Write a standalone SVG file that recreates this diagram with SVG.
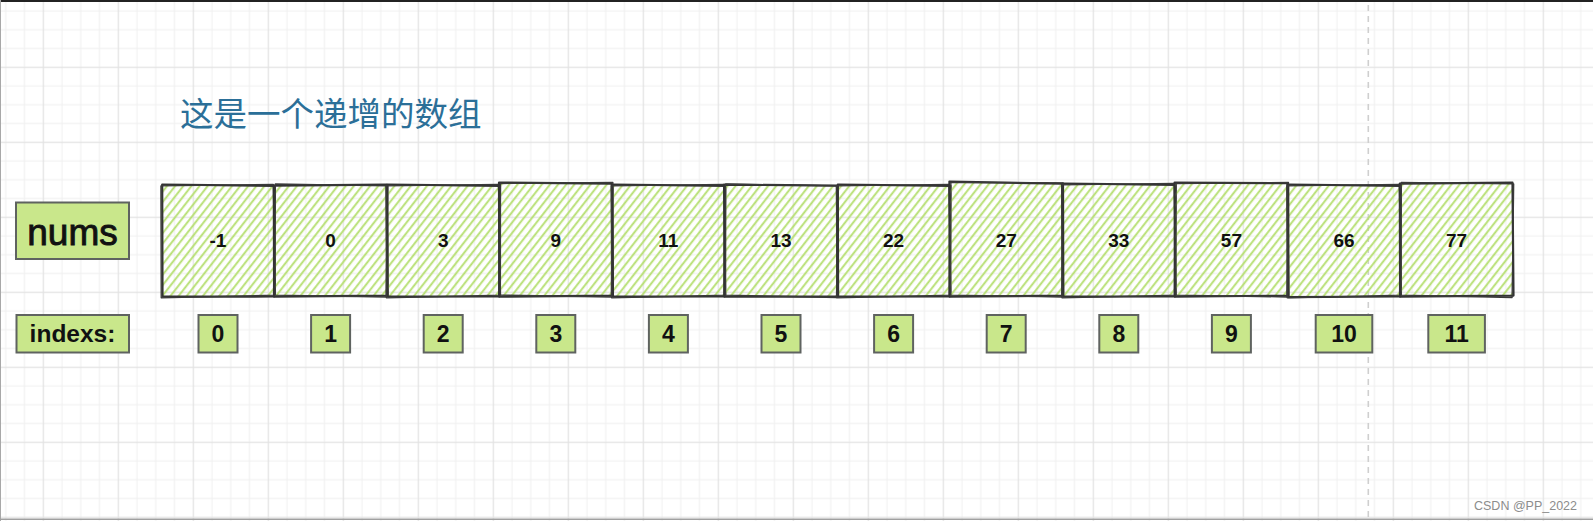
<svg xmlns="http://www.w3.org/2000/svg" width="1593" height="521" viewBox="0 0 1593 521">
<style>
.cellout{fill:none;stroke:#333333;stroke-width:2.2;stroke-linejoin:round;stroke-linecap:round}
.cellout2{fill:none;stroke:#3a3a3a;stroke-width:1.3;stroke-linejoin:round;stroke-linecap:round}
.hatch{fill:url(#hatch);stroke:none}
.val{font-family:"Liberation Sans",Arial,sans-serif;font-weight:bold;font-size:19px;fill:#111111;text-anchor:middle}
.ibox{fill:#c9e78b;stroke:#5f6360;stroke-width:2}
.itxt{font-family:"Liberation Sans",Arial,sans-serif;font-weight:bold;font-size:23px;fill:#111111;text-anchor:middle}
</style>
<defs>
<pattern id="grid" x="42.7" y="66.7" width="75" height="75" patternUnits="userSpaceOnUse">
<rect x="0" y="0" width="75" height="75" fill="#ffffff"/>
<rect x="18.75" y="0" width="1" height="75" fill="#f0f0f0"/>
<rect x="37.5" y="0" width="1" height="75" fill="#f0f0f0"/>
<rect x="56.25" y="0" width="1" height="75" fill="#f0f0f0"/>
<rect x="0" y="18.75" width="75" height="1" fill="#f0f0f0"/>
<rect x="0" y="37.5" width="75" height="1" fill="#f0f0f0"/>
<rect x="0" y="56.25" width="75" height="1" fill="#f0f0f0"/>
<rect x="0" y="0" width="1.2" height="75" fill="#e2e2e2"/>
<rect x="0" y="0" width="75" height="1.2" fill="#e2e2e2"/>
</pattern>
<pattern id="hatch" x="0" y="0" width="6.4" height="20" patternUnits="userSpaceOnUse" patternTransform="rotate(38)">
<line x1="3" y1="-2" x2="3" y2="22" stroke="#b6df72" stroke-width="1.9"/>
</pattern>
</defs>

<rect x="0" y="0" width="1593" height="521" fill="url(#grid)"/>
<rect x="0" y="0" width="1593" height="2" fill="#222222"/>
<rect x="0" y="0" width="1" height="521" fill="#a8a8a8"/>
<rect x="0" y="518.5" width="1593" height="1.5" fill="#a0a0a0"/>
<line x1="1368.3" y1="5" x2="1368.3" y2="521" stroke="#cfcfcf" stroke-width="1.6" stroke-dasharray="6 5"/>

<text id="title" x="180" y="126" font-family="'Noto Sans CJK SC','Noto Sans',sans-serif" font-size="33.5" fill="#2b6f98">这是一个递增的数组</text>

<g id="label-nums">
<rect x="16" y="202.5" width="113" height="56.5" fill="#c9e78b" stroke="#5f6360" stroke-width="2"/>
<text x="72.5" y="245" font-family="'Liberation Sans',Arial,sans-serif" font-size="37" fill="#111111" stroke="#111111" stroke-width="0.9" text-anchor="middle">nums</text>
</g>
<g id="label-indexs">
<rect x="16.5" y="315" width="112.5" height="37.5" fill="#c9e78b" stroke="#5f6360" stroke-width="2"/>
<text x="72.5" y="341.5" font-family="'Liberation Sans',Arial,sans-serif" font-weight="bold" font-size="24.5" fill="#111111" text-anchor="middle">indexs:</text>
</g>

<g id="cell-0"><rect class="hatch" x="161.7" y="185" width="112.6" height="111"/>
<path class="cellout" d="M162.2 184.5 L274.8 185.8 L274 296.5 L162.5 296.7 Z"/>
<path class="cellout2" d="M160.9 185.8 L273.3 184.4 L275.3 295.2 L161.2 297.8 Z"/>
<text class="val" x="218" y="247">-1</text></g>
<g id="cell-1"><rect class="hatch" x="274.3" y="185" width="112.6" height="111"/>
<path class="cellout" d="M273.8 185.6 L386.5 184.7 L387.5 295.6 L274.1 296.7 Z"/>
<path class="cellout2" d="M275.3 184 L387.7 185.9 L386.1 297 L275.2 295.1 Z"/>
<text class="val" x="330.6" y="247">0</text></g>
<g id="cell-2"><rect class="hatch" x="386.9" y="185" width="112.6" height="111"/>
<path class="cellout" d="M387.4 184.5 L500 185.8 L499.2 296.5 L387.7 296.7 Z"/>
<path class="cellout2" d="M386.1 185.8 L498.5 184.4 L500.5 295.2 L386.4 297.8 Z"/>
<text class="val" x="443.2" y="247">3</text></g>
<g id="cell-3"><rect class="hatch" x="499.5" y="183" width="112.6" height="113"/>
<path class="cellout" d="M499 182.6 L611.7 183.7 L612.7 295.6 L499.3 296.7 Z"/>
<path class="cellout2" d="M500.5 183.5 L612.9 182.4 L611.3 297 L500.4 295.1 Z"/>
<text class="val" x="555.8" y="247">9</text></g>
<g id="cell-4"><rect class="hatch" x="612.1" y="185" width="112.6" height="111"/>
<path class="cellout" d="M612.6 184.5 L725.2 185.8 L724.4 296.5 L612.9 296.7 Z"/>
<path class="cellout2" d="M611.3 185.8 L723.7 184.4 L725.7 295.2 L611.6 297.8 Z"/>
<text class="val" x="668.4" y="247">11</text></g>
<g id="cell-5"><rect class="hatch" x="724.7" y="185" width="112.6" height="111"/>
<path class="cellout" d="M724.2 184.6 L836.9 185.7 L837.9 296.6 L724.5 296.7 Z"/>
<path class="cellout2" d="M725.7 184 L838.1 185.9 L836.5 297.5 L725.6 295.1 Z"/>
<text class="val" x="781" y="247">13</text></g>
<g id="cell-6"><rect class="hatch" x="837.3" y="185" width="112.6" height="111"/>
<path class="cellout" d="M837.8 184.5 L950.4 185.8 L949.6 296.5 L838.1 296.7 Z"/>
<path class="cellout2" d="M836.5 185.8 L948.9 184.4 L950.9 295.2 L836.8 297.8 Z"/>
<text class="val" x="893.6" y="247">22</text></g>
<g id="cell-7"><rect class="hatch" x="949.9" y="182" width="112.6" height="114"/>
<path class="cellout" d="M949.4 181.6 L1062.1 183.7 L1063.1 295.6 L949.7 296.7 Z"/>
<path class="cellout2" d="M950.9 182.4 L1063.3 182.9 L1061.7 297 L950.8 295.1 Z"/>
<text class="val" x="1006.2" y="247">27</text></g>
<g id="cell-8"><rect class="hatch" x="1062.5" y="184" width="112.6" height="112"/>
<path class="cellout" d="M1063 183.5 L1175.6 184.8 L1174.8 296.5 L1063.3 296.7 Z"/>
<path class="cellout2" d="M1061.7 184.8 L1174.1 183.4 L1176.1 295.2 L1062 297.8 Z"/>
<text class="val" x="1118.8" y="247">33</text></g>
<g id="cell-9"><rect class="hatch" x="1175.1" y="183" width="112.6" height="113"/>
<path class="cellout" d="M1174.6 182.6 L1287.3 183.2 L1288.3 295.6 L1174.9 296.7 Z"/>
<path class="cellout2" d="M1176.1 183.5 L1288.5 182.4 L1286.9 297 L1176 295.1 Z"/>
<text class="val" x="1231.4" y="247">57</text></g>
<g id="cell-10"><rect class="hatch" x="1287.7" y="185" width="112.6" height="111"/>
<path class="cellout" d="M1288.2 184.5 L1400.8 185.8 L1400 296.5 L1288.5 297.2 Z"/>
<path class="cellout2" d="M1286.9 185.8 L1399.3 184.4 L1401.3 295.2 L1287.2 297.8 Z"/>
<text class="val" x="1344" y="247">66</text></g>
<g id="cell-11"><rect class="hatch" x="1400.3" y="183" width="112.6" height="113"/>
<path class="cellout" d="M1399.8 183.6 L1512.5 182.7 L1513.5 295.6 L1400.1 296.7 Z"/>
<path class="cellout2" d="M1401.3 182.5 L1513.7 183.9 L1512.1 297.5 L1401.2 295.1 Z"/>
<text class="val" x="1456.6" y="247">77</text></g>

<g id="idx-0"><rect class="ibox" x="198.5" y="315" width="39" height="37.5"/><text class="itxt" x="218" y="342">0</text></g>
<g id="idx-1"><rect class="ibox" x="311.1" y="315" width="39" height="37.5"/><text class="itxt" x="330.6" y="342">1</text></g>
<g id="idx-2"><rect class="ibox" x="423.7" y="315" width="39" height="37.5"/><text class="itxt" x="443.2" y="342">2</text></g>
<g id="idx-3"><rect class="ibox" x="536.3" y="315" width="39" height="37.5"/><text class="itxt" x="555.8" y="342">3</text></g>
<g id="idx-4"><rect class="ibox" x="648.9" y="315" width="39" height="37.5"/><text class="itxt" x="668.4" y="342">4</text></g>
<g id="idx-5"><rect class="ibox" x="761.5" y="315" width="39" height="37.5"/><text class="itxt" x="781" y="342">5</text></g>
<g id="idx-6"><rect class="ibox" x="874.1" y="315" width="39" height="37.5"/><text class="itxt" x="893.6" y="342">6</text></g>
<g id="idx-7"><rect class="ibox" x="986.7" y="315" width="39" height="37.5"/><text class="itxt" x="1006.2" y="342">7</text></g>
<g id="idx-8"><rect class="ibox" x="1099.3" y="315" width="39" height="37.5"/><text class="itxt" x="1118.8" y="342">8</text></g>
<g id="idx-9"><rect class="ibox" x="1211.9" y="315" width="39" height="37.5"/><text class="itxt" x="1231.4" y="342">9</text></g>
<g id="idx-10"><rect class="ibox" x="1315.7" y="315" width="56.6" height="37.5"/><text class="itxt" x="1344" y="342">10</text></g>
<g id="idx-11"><rect class="ibox" x="1428.3" y="315" width="56.6" height="37.5"/><text class="itxt" x="1456.6" y="342">11</text></g>

<g id="connectors"></g>

<text x="1577" y="510" font-family="'Liberation Sans',Arial,sans-serif" font-size="12.5" fill="#8c8c8c" text-anchor="end">CSDN @PP_2022</text>
</svg>
